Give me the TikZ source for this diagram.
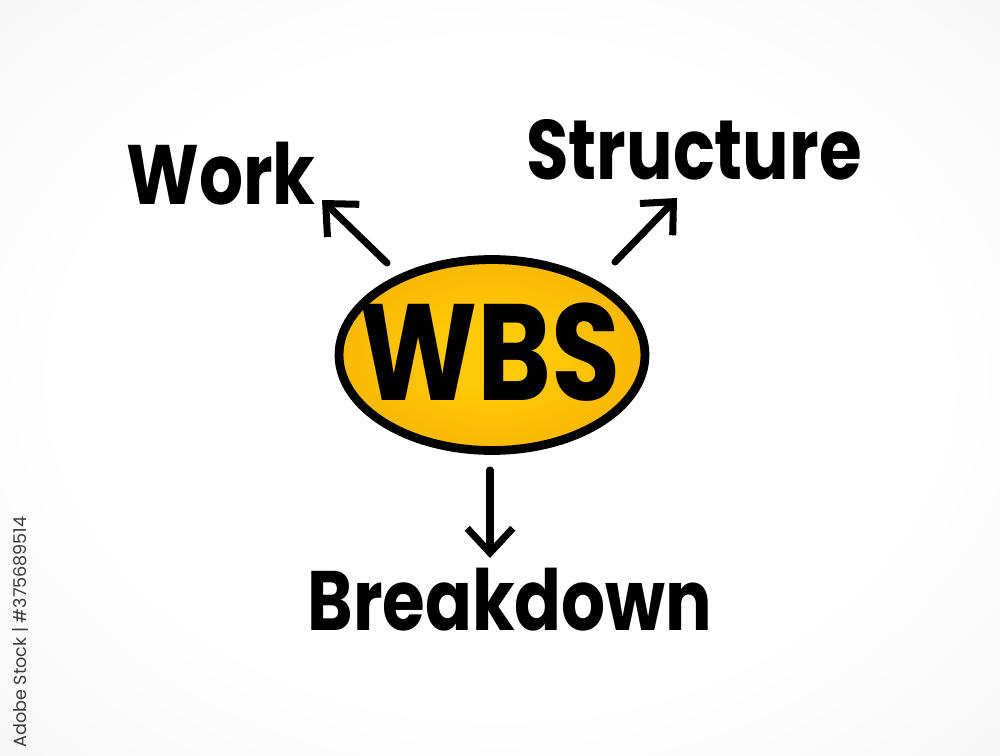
\documentclass[tikz,border=0pt]{standalone}
\usepackage{fontspec}
\setmainfont{Poppins}
\newfontfamily\handfont[FakeStretch=0.82]{Poppins}
\usetikzlibrary{arrows.meta,shapes.geometric}

\definecolor{wbsyellow}{HTML}{FFCA08}
\definecolor{wbsorange}{HTML}{F29E00}
\definecolor{stockgray}{HTML}{3A3A3A}

\pgfdeclareradialshading{paper}{\pgfpoint{0bp}{0bp}}{%
  color(0bp)=(white); color(22bp)=(white); color(50bp)=(black!7); color(72bp)=(black!14)}
\pgfdeclareradialshading{wbsfill}{\pgfpoint{0bp}{0bp}}{%
  color(0bp)=(wbsyellow); color(8bp)=(wbsyellow); color(50bp)=(wbsorange); color(60bp)=(wbsorange)}

\tikzset{
  hand/.style={line width=4pt,line cap=round,-{Straight Barb[length=14pt,width=26pt,line width=4pt]}},
  word/.style={inner sep=0pt,anchor=base,font=\handfont\fontsize{48}{48}\selectfont\bfseries},
}

\begin{document}
\begin{tikzpicture}[x=0.02cm,y=-0.02cm]
\useasboundingbox (0,0) rectangle (1000,756);
\shade[shading=paper] (0,0) rectangle (1000,756);
% stock id
\node[rotate=90,text=stockgray,font=\fontsize{10}{10}\selectfont] (stockid) at (20,632) {Adobe Stock | \#375689514};
% centre
\node[ellipse,draw=black,line width=5pt,shading=wbsfill,inner sep=0pt,
  minimum width=6.12cm,minimum height=3.82cm] (wbs) at (492,355) {};
\node[word,font=\handfont\fontsize{78}{78}\selectfont\bfseries] (wbstext) at (490,400) {WBS};
% words
\node[word] (work) at (221,205) {Work};
\node[word] (structure) at (694,180) {Structure};
\node[word] (breakdown) at (510,630) {Breakdown};
% arrows
\coordinate (w0) at (387,263);
\coordinate (w1) at (322,200);
\coordinate (s0) at (615,262);
\coordinate (s1) at (677,198);
\coordinate (b0) at (490,470);
\coordinate (b1) at (490,558);
\draw[hand] (w0) -- (w1);
\draw[hand] (s0) -- (s1);
\draw[hand] (b0) -- (b1);
\end{tikzpicture}
\end{document}
